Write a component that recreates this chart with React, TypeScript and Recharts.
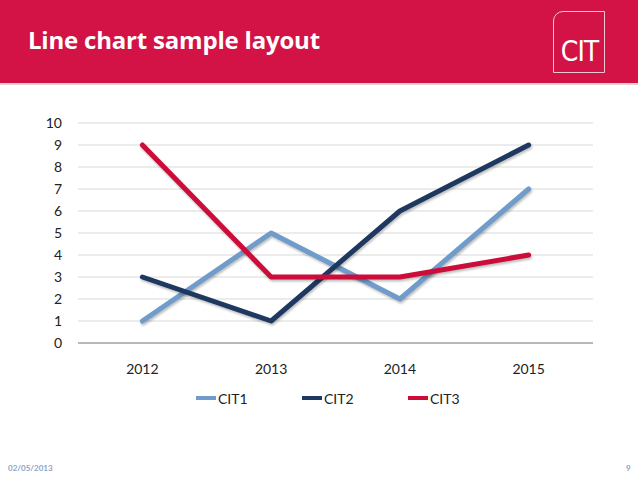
import React from "react";
import { LineChart, Line, XAxis, YAxis, CartesianGrid, Legend } from "recharts";

const years = ["2012", "2013", "2014", "2015"];
const cit1 = [1, 5, 2, 7];
const cit2 = [3, 1, 6, 9];
const cit3 = [9, 3, 3, 4];
const yTicks = [0, 1, 2, 3, 4, 5, 6, 7, 8, 9, 10];

const seriesNames = ["CIT1", "CIT2", "CIT3"];
const seriesColors = ["#6F9CCB", "#1E3860", "#CC0D3A"];

const data = years.map((y, i) => ({ year: y, CIT1: cit1[i], CIT2: cit2[i], CIT3: cit3[i] }));

const FONT = "Lato, 'Open Sans', sans-serif";

const LegendContent = () => (
  <div style={{ display: "flex", height: 20, alignItems: "center", fontFamily: FONT, fontSize: 14, color: "#222" }}>
    {seriesNames.map((n, i) => (
      <div key={n} style={{ width: 106, display: "flex", alignItems: "center" }}>
        <span style={{ display: "inline-block", width: 20, height: 4, background: seriesColors[i], marginRight: 2 }} />
        <span>{n}</span>
      </div>
    ))}
  </div>
);

export default function App() {
  return (
    <div style={{ position: "absolute", left: 0, top: 0, width: 638, height: 478, background: "#fff", overflow: "hidden" }}>
      <div style={{ position: "absolute", left: 0, top: 0, width: 638, height: 83, background: "#D31245" }} />
      <div style={{ position: "absolute", left: 0, top: 83, width: 638, height: 2, background: "#D9D3D6" }} />
      <div style={{ position: "absolute", left: 28, top: 24, color: "#fff", fontFamily: "'Open Sans', sans-serif", fontWeight: 700, fontSize: 24, lineHeight: "32px", whiteSpace: "nowrap", letterSpacing: -0.2 }}>
        Line chart sample layout
      </div>
      <div style={{ position: "absolute", left: 553, top: 11, width: 50, height: 60, border: "1.5px solid #F3C6D2", borderTopLeftRadius: 10 }} />
      <div style={{ position: "absolute", left: 553, top: 36, width: 53, textAlign: "center", color: "#fff", fontFamily: "'Liberation Sans Narrow', 'DejaVu Sans Condensed', sans-serif", fontSize: 28, lineHeight: "32px", letterSpacing: -1 }}>
        CIT
      </div>
      <div style={{ position: "absolute", left: 0, top: 0 }}>
        <LineChart width={638} height={420} data={data} margin={{ top: 123, right: 45, left: 0, bottom: 12 }}>
          <CartesianGrid vertical={false} stroke="#D9D9D9" strokeWidth={1} />
          <XAxis dataKey="year" scale="band" tickLine={false} axisLine={{ stroke: "#868686", strokeWidth: 1 }} tickSize={8} tickMargin={13} height={45} tick={{ fill: "#222", fontSize: 14, fontFamily: FONT }} />
          <YAxis domain={[0, 10]} ticks={yTicks} interval={0} width={78} axisLine={false} tickLine={false} tickSize={6} tickMargin={10} tick={{ fill: "#222", fontSize: 14, fontFamily: FONT }} />
          <Legend verticalAlign="bottom" height={20} content={<LegendContent />} wrapperStyle={{ left: 196, width: 330 }} />
          {seriesNames.map((n, i) => (
            <Line key={n} dataKey={n} type="linear" stroke={seriesColors[i]} strokeWidth={5} dot={false} activeDot={false} isAnimationActive={false} strokeLinecap="round" strokeLinejoin="round" style={{ filter: "drop-shadow(1px 2px 1px rgba(0,0,0,0.25))" }} />
          ))}
        </LineChart>
      </div>
      <div style={{ position: "absolute", left: 8, top: 463, color: "#8CA3C7", fontFamily: FONT, fontWeight: 700, fontSize: 8 }}>02/05/2013</div>
      <div style={{ position: "absolute", left: 626, top: 463, color: "#8CA3C7", fontFamily: FONT, fontWeight: 700, fontSize: 8 }}>9</div>
    </div>
  );
}
